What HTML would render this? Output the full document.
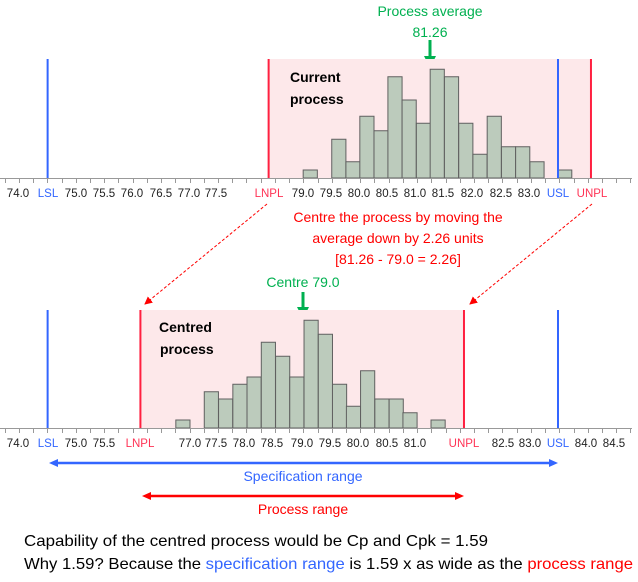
<!DOCTYPE html>
<html><head><meta charset="utf-8"><style>
html,body{margin:0;padding:0;background:#fff;}
svg{display:block;font-family:"Liberation Sans",sans-serif;}
</style></head><body>
<svg width="638" height="582" viewBox="0 0 638 582" xmlns="http://www.w3.org/2000/svg">
<defs>
<marker id="ar" markerWidth="8" markerHeight="8" refX="7" refY="4" orient="auto"><path d="M0,0 L8,4 L0,8 z" fill="#ff0000"/></marker>
</defs>

<!-- TOP -->
<text x="430" y="16" fill="#00b050" font-size="14" text-anchor="middle">Process average</text>
<text x="430" y="37" fill="#00b050" font-size="14" text-anchor="middle">81.26</text>
<line x1="430" y1="40" x2="430" y2="58" stroke="#00b050" stroke-width="3"/>
<path d="M424,56 L436,56 L430,68 z" fill="#00b050"/>
<g transform="scale(1.221,1)">
<rect x="220" y="59" width="264" height="119" fill="#fde8ea"/>
<g fill="#bccbbc" stroke="#606060" stroke-width="1" vector-effect="non-scaling-stroke">
<rect vector-effect="non-scaling-stroke" x="248.3" y="170" width="11.6" height="8"/>
<rect vector-effect="non-scaling-stroke" x="271.7" y="139.3" width="11.6" height="38.7"/>
<rect vector-effect="non-scaling-stroke" x="283.3" y="161.7" width="11.6" height="16.3"/>
<rect vector-effect="non-scaling-stroke" x="294.7" y="116.3" width="11.6" height="61.7"/>
<rect vector-effect="non-scaling-stroke" x="306.3" y="130.7" width="11.6" height="47.3"/>
<rect vector-effect="non-scaling-stroke" x="317.7" y="76.7" width="11.6" height="101.3"/>
<rect vector-effect="non-scaling-stroke" x="329.3" y="100" width="11.6" height="78"/>
<rect vector-effect="non-scaling-stroke" x="341" y="123.3" width="11.6" height="54.7"/>
<rect vector-effect="non-scaling-stroke" x="352.3" y="69.3" width="11.6" height="108.7"/>
<rect vector-effect="non-scaling-stroke" x="364" y="76.7" width="11.6" height="101.3"/>
<rect vector-effect="non-scaling-stroke" x="375.7" y="123.3" width="11.6" height="54.7"/>
<rect vector-effect="non-scaling-stroke" x="387.3" y="154.3" width="11.6" height="23.7"/>
<rect vector-effect="non-scaling-stroke" x="399" y="116.3" width="11.6" height="61.7"/>
<rect vector-effect="non-scaling-stroke" x="410.7" y="146.7" width="11.6" height="31.3"/>
<rect vector-effect="non-scaling-stroke" x="422.3" y="146.7" width="11.6" height="31.3"/>
<rect vector-effect="non-scaling-stroke" x="434" y="161.7" width="11.6" height="16.3"/>
<rect vector-effect="non-scaling-stroke" x="456.7" y="170" width="11.6" height="8"/>
</g>
<line x1="39" y1="59" x2="39" y2="178" stroke="#3366ff" stroke-width="2" vector-effect="non-scaling-stroke"/>
<line x1="457" y1="59" x2="457" y2="178" stroke="#3366ff" stroke-width="2" vector-effect="non-scaling-stroke"/>
<line x1="220" y1="59" x2="220" y2="178" stroke="#ff2040" stroke-width="2" vector-effect="non-scaling-stroke"/>
<line x1="484" y1="59" x2="484" y2="178" stroke="#ff2040" stroke-width="2" vector-effect="non-scaling-stroke"/>
</g>
<text x="290" y="82" font-size="14" font-weight="bold" fill="#000">Current</text>
<text x="290" y="104" font-size="14" font-weight="bold" fill="#000">process</text>
<line x1="0" y1="178.5" x2="632" y2="178.5" stroke="#999" stroke-width="1"/>
<g stroke="#999" stroke-width="1" id="ticks1">
<path d="M5.5,178 v5 M19.5,178 v5 M33.5,178 v5 M47.5,178 v5 M62.5,178 v5 M76.5,178 v5 M90.5,178 v5 M104.5,178 v5 M118.5,178 v5 M133.5,178 v5 M147.5,178 v5 M161.5,178 v5 M175.5,178 v5 M190.5,178 v5 M204.5,178 v5 M218.5,178 v5 M232.5,178 v5 M246.5,178 v5 M261.5,178 v5 M275.5,178 v5 M289.5,178 v5 M303.5,178 v5 M318.5,178 v5 M332.5,178 v5 M346.5,178 v5 M360.5,178 v5 M374.5,178 v5 M389.5,178 v5 M403.5,178 v5 M417.5,178 v5 M431.5,178 v5 M446.5,178 v5 M460.5,178 v5 M474.5,178 v5 M488.5,178 v5 M502.5,178 v5 M517.5,178 v5 M531.5,178 v5 M545.5,178 v5 M559.5,178 v5 M574.5,178 v5 M588.5,178 v5 M602.5,178 v5 M616.5,178 v5 M630.5,178 v5"/>
</g>
<g font-size="11.5" text-anchor="middle" fill="#222">
<text x="18" y="197">74.0</text>
<text x="48" y="197" fill="#3366ff">LSL</text>
<text x="76" y="197">75.0</text>
<text x="104" y="197">75.5</text>
<text x="132" y="197">76.0</text>
<text x="161" y="197">76.5</text>
<text x="189" y="197">77.0</text>
<text x="216" y="197">77.5</text>
<text x="269" y="197" fill="#ff3355">LNPL</text>
<text x="303" y="197">79.0</text>
<text x="331" y="197">79.5</text>
<text x="359" y="197">80.0</text>
<text x="387" y="197">80.5</text>
<text x="415" y="197">81.0</text>
<text x="443" y="197">81.5</text>
<text x="472" y="197">82.0</text>
<text x="501" y="197">82.5</text>
<text x="529" y="197">83.0</text>
<text x="558" y="197" fill="#3366ff">USL</text>
<text x="592" y="197" fill="#ff3355">UNPL</text>
</g>

<!-- middle text -->
<g font-size="14" fill="#ff0000" text-anchor="middle">
<text x="398" y="222">Centre the process by moving the</text>
<text x="398" y="243">average down by 2.26 units</text>
<text x="398" y="264">[81.26 - 79.0 = 2.26]</text>
</g>
<line x1="267" y1="204" x2="145" y2="304" stroke="#ff0000" stroke-width="1" stroke-dasharray="3,2" marker-end="url(#ar)"/>
<line x1="592" y1="204" x2="470" y2="304" stroke="#ff0000" stroke-width="1" stroke-dasharray="3,2" marker-end="url(#ar)"/>
<text x="303" y="287" font-size="14" fill="#00b050" text-anchor="middle">Centre 79.0</text>
<line x1="303" y1="292" x2="303" y2="309" stroke="#00b050" stroke-width="3"/>
<path d="M297,307 L309,307 L303,319 z" fill="#00b050"/>

<!-- BOTTOM -->
<g transform="scale(1.221,1)">
<rect x="115" y="310" width="265" height="118" fill="#fde8ea"/>
<g fill="#bccbbc" stroke="#606060" stroke-width="1">
<rect vector-effect="non-scaling-stroke" x="144" y="420" width="11.6" height="8"/>
<rect vector-effect="non-scaling-stroke" x="167.3" y="391.7" width="11.6" height="36.3"/>
<rect vector-effect="non-scaling-stroke" x="179" y="399" width="11.6" height="29"/>
<rect vector-effect="non-scaling-stroke" x="190.7" y="384.3" width="11.6" height="43.7"/>
<rect vector-effect="non-scaling-stroke" x="202.3" y="377" width="11.6" height="51"/>
<rect vector-effect="non-scaling-stroke" x="214" y="342.3" width="11.6" height="85.7"/>
<rect vector-effect="non-scaling-stroke" x="225.7" y="356.3" width="11.6" height="71.7"/>
<rect vector-effect="non-scaling-stroke" x="237.3" y="377" width="11.6" height="51"/>
<rect vector-effect="non-scaling-stroke" x="249" y="320.3" width="11.6" height="107.7"/>
<rect vector-effect="non-scaling-stroke" x="260.7" y="334.3" width="11.6" height="93.7"/>
<rect vector-effect="non-scaling-stroke" x="272.3" y="384.3" width="11.6" height="43.7"/>
<rect vector-effect="non-scaling-stroke" x="283.7" y="406.3" width="11.6" height="21.7"/>
<rect vector-effect="non-scaling-stroke" x="295.3" y="370.7" width="11.6" height="57.3"/>
<rect vector-effect="non-scaling-stroke" x="307" y="399" width="11.6" height="29"/>
<rect vector-effect="non-scaling-stroke" x="318.7" y="399" width="11.6" height="29"/>
<rect vector-effect="non-scaling-stroke" x="330" y="412.7" width="11.6" height="15.3"/>
<rect vector-effect="non-scaling-stroke" x="353" y="420" width="11.6" height="8"/>
</g>
<line x1="39" y1="310" x2="39" y2="428" stroke="#3366ff" stroke-width="2" vector-effect="non-scaling-stroke"/>
<line x1="457" y1="310" x2="457" y2="428" stroke="#3366ff" stroke-width="2" vector-effect="non-scaling-stroke"/>
<line x1="115" y1="310" x2="115" y2="428" stroke="#ff2040" stroke-width="2" vector-effect="non-scaling-stroke"/>
<line x1="380" y1="310" x2="380" y2="428" stroke="#ff2040" stroke-width="2" vector-effect="non-scaling-stroke"/>
</g>
<text x="159" y="332" font-size="14" font-weight="bold" fill="#000">Centred</text>
<text x="160" y="354" font-size="14" font-weight="bold" fill="#000">process</text>
<line x1="0" y1="428.5" x2="632" y2="428.5" stroke="#999" stroke-width="1"/>
<use href="#ticks1" transform="translate(0,250)"/>
<g font-size="11.5" text-anchor="middle" fill="#222">
<text x="18" y="447">74.0</text>
<text x="48" y="447" fill="#3366ff">LSL</text>
<text x="76" y="447">75.0</text>
<text x="104" y="447">75.5</text>
<text x="140" y="447" fill="#ff3355">LNPL</text>
<text x="190" y="447">77.0</text>
<text x="216" y="447">77.5</text>
<text x="244" y="447">78.0</text>
<text x="272" y="447">78.5</text>
<text x="302" y="447">79.0</text>
<text x="330" y="447">79.5</text>
<text x="358" y="447">80.0</text>
<text x="387" y="447">80.5</text>
<text x="415" y="447">81.0</text>
<text x="464" y="447" fill="#ff3355">UNPL</text>
<text x="503" y="447">82.5</text>
<text x="530" y="447">83.0</text>
<text x="558" y="447" fill="#3366ff">USL</text>
<text x="586" y="447">84.0</text>
<text x="614" y="447">84.5</text>
</g>

<!-- range arrows -->
<line x1="55" y1="463" x2="552" y2="463" stroke="#3366ff" stroke-width="2.5"/>
<path d="M49,463 L58,459 L58,467 z M558,463 L549,459 L549,467 z" fill="#3366ff"/>
<text x="303" y="481" font-size="14" fill="#3366ff" text-anchor="middle">Specification range</text>
<line x1="148" y1="496" x2="458" y2="496" stroke="#ff0000" stroke-width="2.5"/>
<path d="M142,496 L151,492 L151,500 z M464,496 L455,492 L455,500 z" fill="#ff0000"/>
<text x="303" y="514" font-size="14" fill="#ff0000" text-anchor="middle">Process range</text>

<text x="24" y="546" font-size="16" fill="#000" textLength="464" lengthAdjust="spacingAndGlyphs">Capability of the centred process would be Cp and Cpk = 1.59</text>
<text x="24" y="569" font-size="16" fill="#000" textLength="609" lengthAdjust="spacingAndGlyphs">Why 1.59? Because the <tspan fill="#3366ff">specification range</tspan> is 1.59 x as wide as the <tspan fill="#ff0000">process range</tspan></text>
</svg>
</body></html>
